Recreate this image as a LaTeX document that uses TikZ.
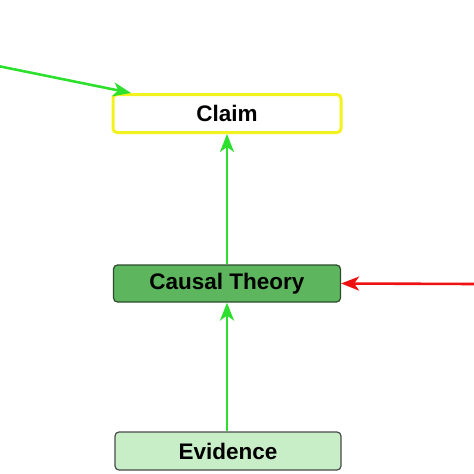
\documentclass[tikz,border=0pt]{standalone}
\usepackage{fontspec}
\setmainfont{Liberation Sans}
\usetikzlibrary{arrows.meta}
\definecolor{arrgreen}{HTML}{2EE02E}
\definecolor{arrred}{HTML}{EE1111}
\definecolor{claimyellow}{HTML}{F2F21E}
\definecolor{midgreen}{HTML}{5DB55D}
\definecolor{midborder}{HTML}{2C4A2C}
\definecolor{lightgreen}{HTML}{C8EEC8}
\definecolor{lightborder}{HTML}{4A4A4A}
\tikzset{
  box/.style={rounded corners=4pt, minimum height=38pt, inner sep=0pt, font=\bfseries\fontsize{22.5}{26}\selectfont, text=black},
  link/.style={line width=2.6pt, -{Stealth[length=18pt,width=14pt,inset=5pt]}},
}
\newcommand{\lowtext}[1]{\raisebox{-1.5pt}{#1}}
\begin{document}
\begin{tikzpicture}[x=1pt,y=-1pt]
\useasboundingbox (0,0) rectangle (474,474);
\node[box, draw=claimyellow, line width=3pt, fill=white, minimum width=228pt] (claim) at (227,113.5) {\lowtext{Claim}};
\node[box, draw=midborder, line width=1.2pt, fill=midgreen, minimum width=227pt, minimum height=37pt] (theory) at (227,283.5) {\lowtext{Causal Theory}};
\node[box, draw=lightborder, line width=1.2pt, fill=lightgreen, minimum width=226pt] (evidence) at (228,451) {\lowtext{Evidence}};
\coordinate (leftin) at (-2,66);
\coordinate (claimin) at (131,93);
\coordinate (rightin) at (476,284);
\draw[link, arrgreen] (evidence.north -| theory.south) -- (theory.south);
\draw[link, arrgreen] (theory.north) -- (claim.south -| theory.north);
\draw[link, arrgreen] (leftin) -- (claimin);
\draw[link, arrred] (rightin) -- (theory.east);
\end{tikzpicture}
\end{document}
